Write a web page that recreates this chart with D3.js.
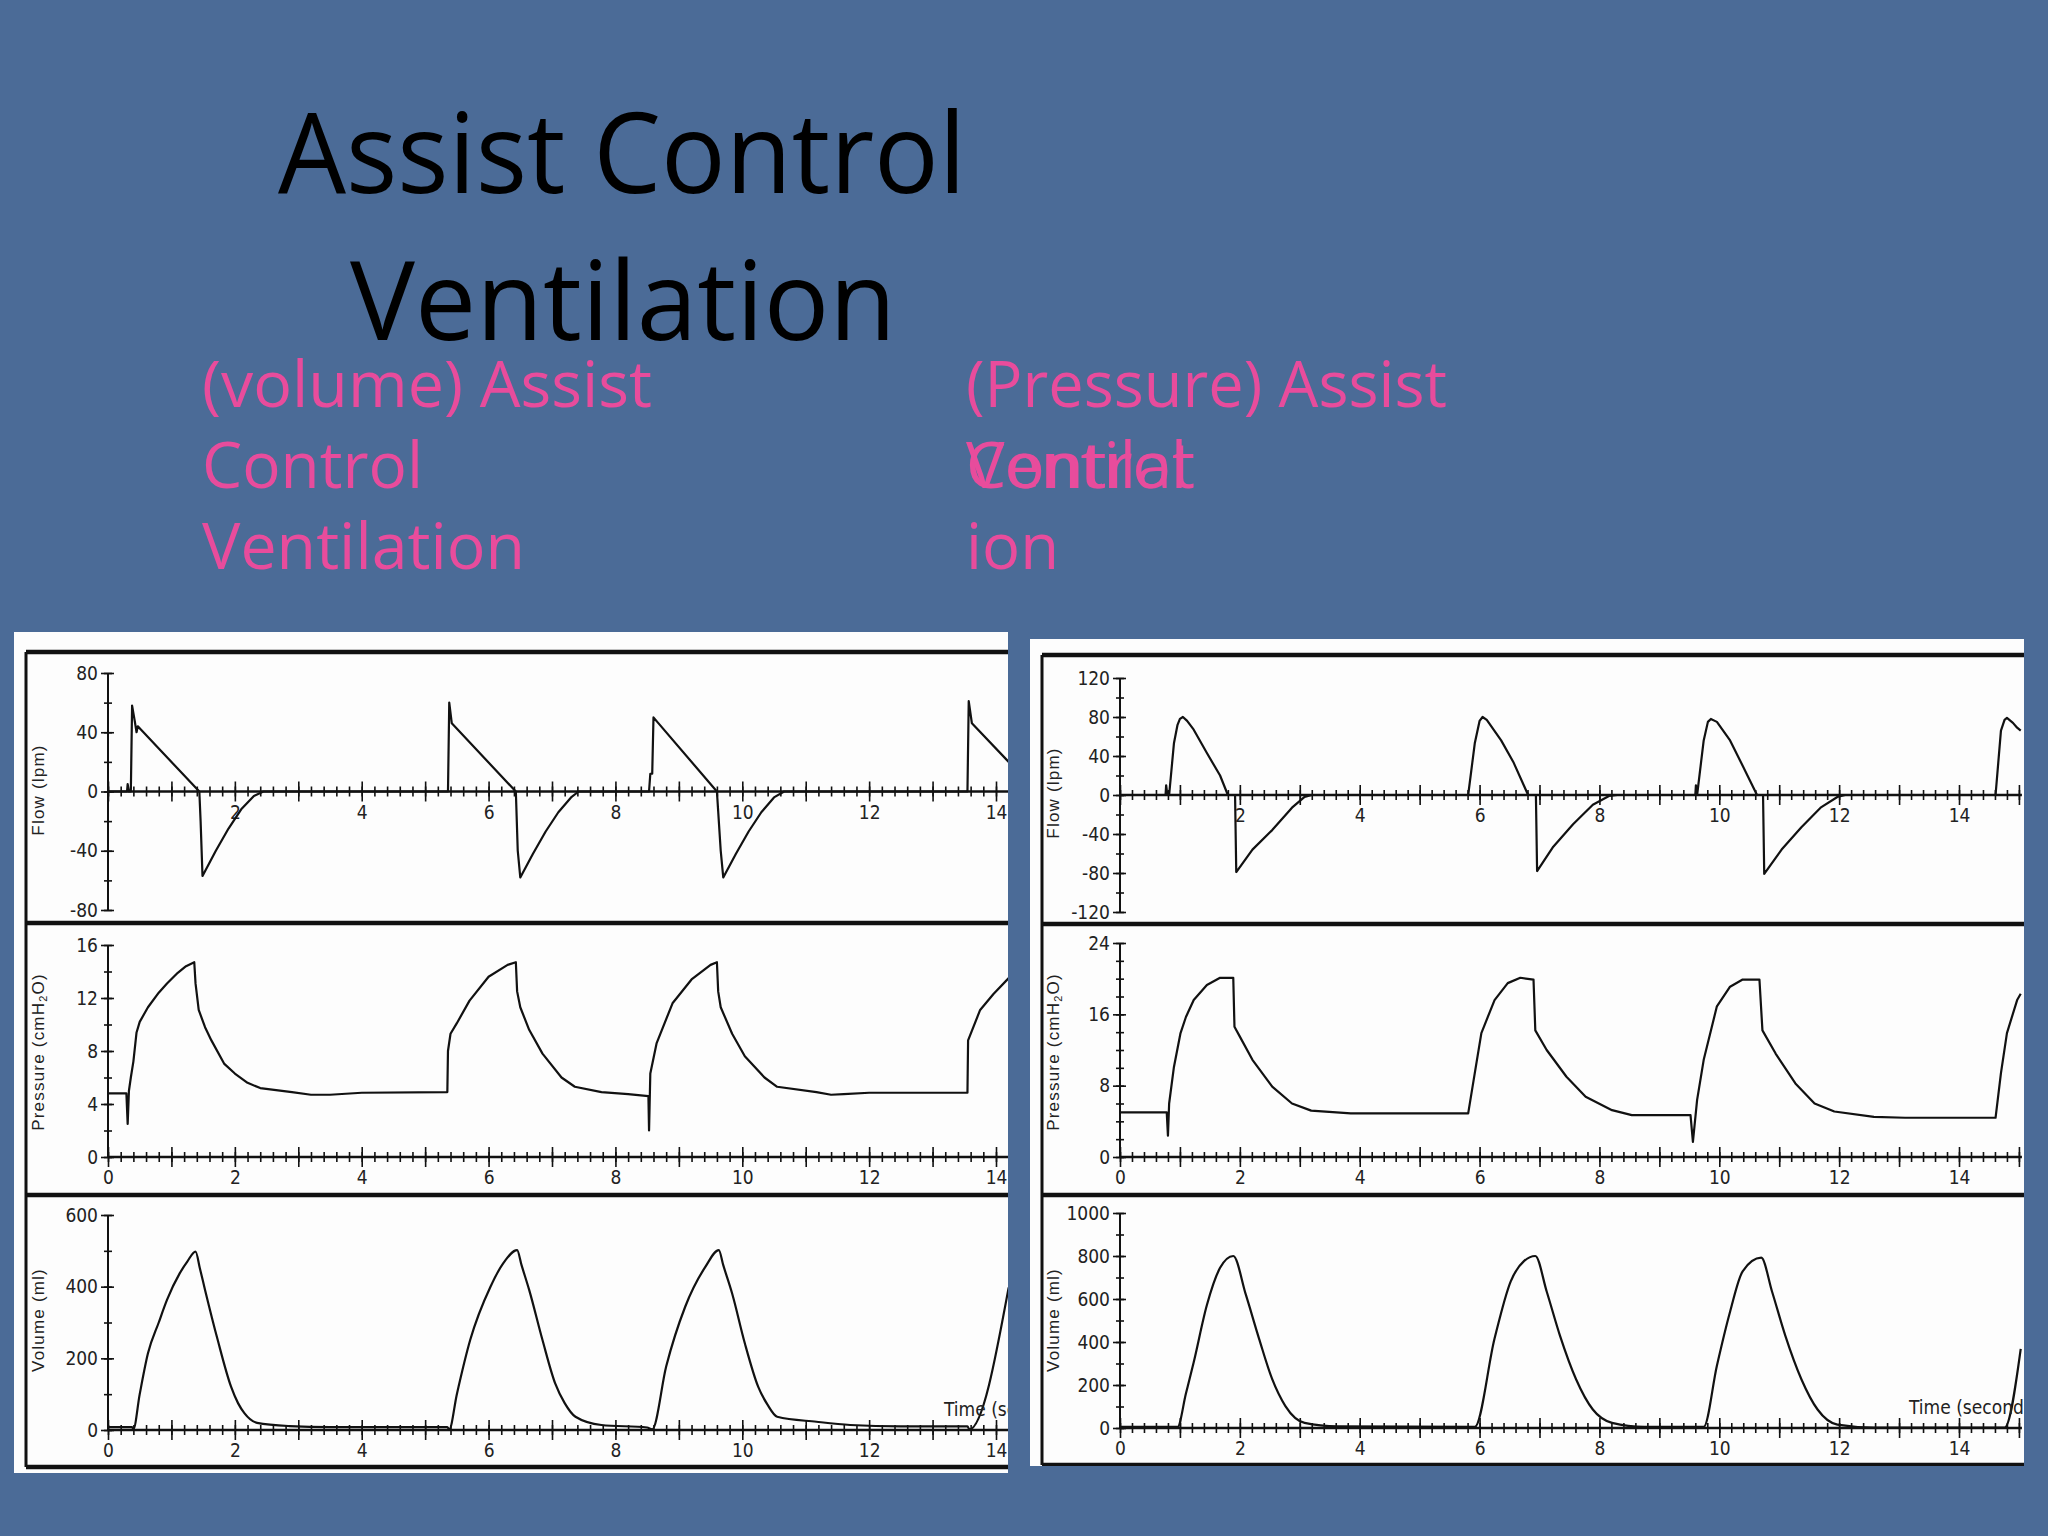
<!DOCTYPE html>
<html>
<head>
<meta charset="utf-8">
<script src="https://cdn.jsdelivr.net/npm/d3@7"></script>
<style>
  html, body { margin: 0; padding: 0; background: #4b6b97; }
  svg { display: block; }
</style>
</head>
<body>
<svg id="chart" width="2048" height="1536"></svg>
<script>
// ---------------- DATA ----------------
const titleLines = ["Assist Control", "Ventilation"];
const leftHeading = ["(volume) Assist", "Control", "Ventilation"];
const rightHeading = ["(Pressure) Assist", "Control", "Ventilat", "ion"];

const axisTitles = ["Flow (lpm)", "Pressure (cmH", "Volume (ml)"];
const timeLabel = "Time (seconds)";

// tick labels
const xTickLabels = [0, 2, 4, 6, 8, 10, 12, 14];
const leftFlowTicks = [80, 40, 0, -40, -80];
const leftPressureTicks = [16, 12, 8, 4, 0];
const leftVolumeTicks = [600, 400, 200, 0];
const rightFlowTicks = [120, 80, 40, 0, -40, -80, -120];
const rightPressureTicks = [24, 16, 8, 0];
const rightVolumeTicks = [1000, 800, 600, 400, 200, 0];

// series: [time (s), value]
const leftFlow = [[0,0],[0.3,0],[0.31,5],[0.33,0],[0.36,0],[0.38,58],[0.42,48],[0.45,40],[0.47,44],[1.44,0],[1.46,-20],[1.49,-57],[1.7,-40],[1.9,-25],[2.1,-12],[2.3,-3],[2.45,0],
  [5.36,0],[5.38,60],[5.42,46],[6.43,0],[6.46,-40],[6.5,-58],[6.7,-42],[6.9,-27],[7.1,-14],[7.3,-4],[7.42,0],
  [8.53,0],[8.55,12],[8.58,12],[8.6,50],[8.68,46],[9.6,0],[9.66,-40],[9.7,-58],[9.9,-42],[10.1,-27],[10.3,-14],[10.5,-4],[10.66,0],
  [13.55,0],[13.57,61],[13.62,46],[14.2,20]];
const leftPressure = [[0,4.8],[0.29,4.8],[0.31,2.5],[0.33,5.0],[0.36,6.0],[0.4,7.2],[0.45,9.4],[0.5,10.2],[0.63,11.3],[0.8,12.4],[0.93,13.1],[1.1,13.9],[1.23,14.4],[1.36,14.7],[1.38,13.1],[1.43,11.1],[1.53,9.8],[1.63,8.8],[1.83,7.05],[2.0,6.3],[2.2,5.6],[2.4,5.2],[2.9,4.9],[3.2,4.7],[3.5,4.7],[4.0,4.85],[5.35,4.9],
  [5.36,8.0],[5.4,9.3],[5.5,10.1],[5.7,11.8],[6.0,13.6],[6.3,14.5],[6.43,14.7],[6.45,12.5],[6.5,11.3],[6.64,9.6],[6.85,7.8],[7.15,6.0],[7.36,5.3],[7.78,4.9],[8.2,4.75],[8.52,4.6],
  [8.53,2.0],[8.55,6.3],[8.65,8.6],[8.9,11.6],[9.2,13.4],[9.5,14.5],[9.6,14.7],[9.62,12.5],[9.66,11.3],[9.84,9.3],[10.04,7.6],[10.35,6.0],[10.55,5.3],[11.17,4.9],[11.4,4.7],[11.6,4.75],[12.0,4.85],[13.55,4.85],
  [13.56,8.8],[13.75,11.1],[13.96,12.3],[14.2,13.5]];
const leftVolume = [[0,8],[0.38,8],[0.4,2],[0.5,100],[0.63,214],[0.8,300],[0.93,363],[1.13,437],[1.25,470],[1.38,498],[1.45,450],[1.53,391],[1.73,251],[1.94,121],[2.05,75],[2.15,47],[2.35,20],[2.86,11],[3.5,8],[5.35,8],
  [5.38,2],[5.5,100],[5.71,251],[6.03,400],[6.23,465],[6.45,502],[6.52,460],[6.64,391],[6.85,251],[7.05,130],[7.2,75],[7.37,37],[7.78,14],[8.5,7],
  [8.58,2],[8.8,177],[9.1,344],[9.42,456],[9.63,502],[9.7,460],[9.84,381],[10.04,242],[10.25,121],[10.4,70],[10.55,37],[11.17,23],[11.7,14],[12.5,10],[13.55,10],
  [13.58,2],[14.2,398]];

const rightFlow = [[0,0],[0.76,0],[0.77,10],[0.79,0],[0.82,0],[0.9,53],[0.96,72],[1.0,78],[1.05,80],[1.12,76],[1.23,67],[1.45,43],[1.67,20],[1.8,0],[1.92,0],[1.94,-79],[2.21,-56],[2.54,-36],[2.87,-13],[3.08,-2],[3.2,0],
  [5.81,0],[5.92,53],[6.0,76],[6.05,80],[6.12,77],[6.36,56],[6.57,33],[6.81,0],[6.94,0],[6.96,-78],[7.23,-53],[7.56,-30],[7.89,-10],[8.16,-1],[8.3,0],
  [9.6,0],[9.61,10],[9.63,0],[9.74,56],[9.81,75],[9.86,78],[9.96,75],[10.18,56],[10.39,30],[10.63,0],[10.73,0],[10.75,-81],[11.04,-56],[11.37,-33],[11.69,-13],[11.97,-2],[12.1,0],
  [14.61,0],[14.7,66],[14.76,77],[14.8,79],[14.9,74],[14.97,69],[15.03,66]];
const rightPressure = [[0,5.0],[0.78,5.0],[0.8,2.4],[0.82,6.0],[0.9,10.1],[1.01,13.9],[1.1,15.7],[1.23,17.6],[1.45,19.3],[1.67,20.1],[1.89,20.1],[1.91,14.6],[2.0,13.5],[2.21,10.9],[2.54,7.9],[2.87,6.0],[3.19,5.2],[3.85,4.9],[5.81,4.9],
  [5.92,9.4],[6.03,13.9],[6.25,17.6],[6.47,19.5],[6.68,20.1],[6.9,19.9],[6.93,14.2],[7.12,12.0],[7.45,9.0],[7.77,6.75],[8.21,5.25],[8.54,4.7],[9.52,4.7],
  [9.56,1.7],[9.63,6.4],[9.74,10.9],[9.96,16.9],[10.18,19.1],[10.39,19.9],[10.67,19.9],[10.72,14.2],[10.94,11.6],[11.27,8.25],[11.59,6.0],[11.92,5.1],[12.58,4.5],[13.1,4.4],[14.61,4.4],
  [14.7,9.4],[14.8,13.9],[14.97,17.6],[15.03,18.3]];
const rightVolume = [[0,5],[0.96,5],[1.1,160],[1.23,306],[1.45,572],[1.67,745],[1.89,800],[2.1,620],[2.32,416],[2.54,227],[2.76,102],[3.08,24],[3.63,8],[5.92,5],
  [6.25,416],[6.52,682],[6.74,776],[6.93,800],[7.12,635],[7.34,431],[7.61,227],[7.89,86],[8.21,24],[8.75,5],[9.74,5],
  [9.96,290],[10.18,541],[10.39,729],[10.7,792],[10.88,635],[11.1,431],[11.37,227],[11.64,86],[11.97,16],[12.58,2],[14.76,2],[15.03,368]];

// ---------------- DRAW ----------------
const svg = d3.select("#chart");
const PINK = "#e84c9c";
const INK = "#111";
const NARROW = '"Liberation Sans Narrow", "DejaVu Sans Condensed", "Liberation Sans", sans-serif';
const fmt = d => String(d);

// Title
const titleG = svg.append("g").attr("font-family", '"Open Sans", "Noto Sans", sans-serif').attr("fill", "#000");
titleG.append("text").attr("x", 278).attr("y", 193).attr("font-size", 112)
  .attr("textLength", 688).attr("lengthAdjust", "spacingAndGlyphs").text(titleLines[0]);
titleG.append("text").attr("x", 350).attr("y", 340).attr("font-size", 110)
  .attr("textLength", 546).attr("lengthAdjust", "spacingAndGlyphs").text(titleLines[1]);

// Pink headings
const headG = svg.append("g").attr("font-family", '"Open Sans", "Noto Sans", sans-serif').attr("fill", PINK).attr("font-size", 64);
const leftW = [450, 221, 323];
const leftY = [407, 488, 569];
leftHeading.forEach((s, i) => headG.append("text").attr("x", 202).attr("y", leftY[i])
  .attr("textLength", leftW[i]).attr("lengthAdjust", "spacingAndGlyphs").text(s));
const rightW = [481, 221, 229, 93];
const rightY = [407, 488, 488, 569];
rightHeading.forEach((s, i) => headG.append("text").attr("x", 966).attr("y", rightY[i])
  .attr("textLength", rightW[i]).attr("lengthAdjust", "spacingAndGlyphs").text(s));

// Panels
const panels = [
  {
    rect: [14, 632, 1008, 1473], frameX: 26, frameYs: [652, 923, 1195, 1467], frameX1: 1008,
    x: d3.scaleLinear().domain([0, 14]).range([108, 996]), tMax: 14.2, titleX: 40, timeX: 944,
    subs: [
      { y: d3.scaleLinear().domain([-80, 80]).range([910, 673]), ticks: leftFlowTicks, minorStep: 20, data: leftFlow, curve: d3.curveLinear, xLabels: "flow", titleY: 790, title: 0 },
      { y: d3.scaleLinear().domain([0, 16]).range([1157, 945]), ticks: leftPressureTicks, minorStep: 2, data: leftPressure, curve: d3.curveLinear, xLabels: "below", titleY: 1052, title: 1 },
      { y: d3.scaleLinear().domain([0, 600]).range([1430, 1215]), ticks: leftVolumeTicks, minorStep: 100, data: leftVolume, curve: d3.curveMonotoneX, xLabels: "below", titleY: 1320, title: 2, time: true }
    ]
  },
  {
    rect: [1030, 639, 2024, 1466], frameX: 1042, frameYs: [655, 924, 1195, 1465], frameX1: 2024,
    x: d3.scaleLinear().domain([0, 14]).range([1120, 1959]), tMax: 15.05, titleX: 1055, timeX: 1909,
    subs: [
      { y: d3.scaleLinear().domain([-120, 120]).range([912, 678]), ticks: rightFlowTicks, minorStep: 20, data: rightFlow, curve: d3.curveLinear, xLabels: "flow", titleY: 793, title: 0 },
      { y: d3.scaleLinear().domain([0, 24]).range([1157, 943]), ticks: rightPressureTicks, minorStep: 2, data: rightPressure, curve: d3.curveLinear, xLabels: "below", titleY: 1052, title: 1 },
      { y: d3.scaleLinear().domain([0, 1000]).range([1428, 1213]), ticks: rightVolumeTicks, minorStep: 100, data: rightVolume, curve: d3.curveMonotoneX, xLabels: "below", titleY: 1320, title: 2, time: true }
    ]
  }
];

panels.forEach((p, pi) => {
  const [rx0, ry0, rx1, ry1] = p.rect;
  const clipId = "clip" + pi;
  svg.append("clipPath").attr("id", clipId).append("rect")
    .attr("x", rx0).attr("y", ry0).attr("width", rx1 - rx0).attr("height", ry1 - ry0);
  const g = svg.append("g").attr("clip-path", `url(#${clipId})`);
  g.append("rect").attr("x", rx0).attr("y", ry0).attr("width", rx1 - rx0).attr("height", ry1 - ry0).attr("fill", "#fdfdfd");

  // frame
  g.append("line").attr("x1", p.frameX).attr("x2", p.frameX).attr("y1", p.frameYs[0]).attr("y2", p.frameYs[3])
    .attr("stroke", INK).attr("stroke-width", 3);
  p.frameYs.forEach(fy => g.append("line").attr("x1", p.frameX).attr("x2", p.frameX1 + 2).attr("y1", fy).attr("y2", fy)
    .attr("stroke", INK).attr("stroke-width", 4.5));

  const x = p.x;
  const minorT = d3.range(0, p.tMax + 0.001, 0.2).map(v => +v.toFixed(2));
  const majorT = d3.range(0, Math.floor(p.tMax) + 1, 1);

  p.subs.forEach(s => {
    const y = s.y;
    const x0 = y(0);
    const [yMin, yMax] = y.domain();
    const yAxisX = x(0);

    // x axis line
    g.append("line").attr("x1", yAxisX).attr("x2", x(p.tMax)).attr("y1", x0).attr("y2", x0)
      .attr("stroke", INK).attr("stroke-width", 2.4);
    const tickStyle = sel => { sel.select(".domain").remove(); sel.selectAll("line").attr("stroke", INK).attr("stroke-width", 1.6); };
    g.append("g").attr("transform", `translate(0,${x0})`)
      .call(d3.axisBottom(x).tickValues(minorT).tickSize(5).tickFormat("")).call(tickStyle);
    g.append("g").attr("transform", `translate(0,${x0})`)
      .call(d3.axisTop(x).tickValues(minorT).tickSize(5).tickFormat("")).call(tickStyle);
    g.append("g").attr("transform", `translate(0,${x0})`)
      .call(d3.axisBottom(x).tickValues(majorT).tickSize(10).tickFormat("")).call(tickStyle);
    g.append("g").attr("transform", `translate(0,${x0})`)
      .call(d3.axisTop(x).tickValues(majorT).tickSize(10).tickFormat("")).call(tickStyle);
    // x labels
    const xl = g.append("g").attr("transform", `translate(0,${x0})`)
      .call(d3.axisBottom(x).tickValues(xTickLabels.filter(v => s.xLabels === "below" || v > 0)).tickSize(0).tickPadding(14).tickFormat(fmt));
    xl.select(".domain").remove();
    xl.selectAll("text").attr("font-size", 19).attr("fill", "#222").attr("font-family", NARROW);

    // y axis line
    g.append("line").attr("x1", yAxisX).attr("x2", yAxisX).attr("y1", y(yMax)).attr("y2", y(yMin))
      .attr("stroke", INK).attr("stroke-width", 2);
    const minorY = d3.range(yMin, yMax + 0.001, s.minorStep);
    g.append("g").attr("transform", `translate(${yAxisX},0)`)
      .call(d3.axisLeft(y).tickValues(minorY).tickSize(4).tickFormat("")).call(tickStyle);
    g.append("g").attr("transform", `translate(${yAxisX},0)`)
      .call(d3.axisRight(y).tickValues(minorY).tickSize(4).tickFormat("")).call(tickStyle);
    g.append("g").attr("transform", `translate(${yAxisX},0)`)
      .call(d3.axisRight(y).tickValues(s.ticks).tickSize(6).tickFormat("")).call(tickStyle);
    const yl = g.append("g").attr("transform", `translate(${yAxisX},0)`)
      .call(d3.axisLeft(y).tickValues(s.ticks).tickSize(7).tickPadding(3).tickFormat(fmt));
    tickStyle(yl);
    yl.selectAll("text").attr("font-size", 19).attr("fill", "#222").attr("font-family", NARROW);

    // axis title
    const t = g.append("text").attr("transform", `translate(${p.titleX},${s.titleY}) rotate(-90)`)
      .attr("text-anchor", "middle").attr("dominant-baseline", "middle")
      .attr("font-family", '"Liberation Sans", Arial, sans-serif').attr("font-size", 17)
      .attr("letter-spacing", 1.2).attr("fill", "#222");
    if (s.title === 1) {
      t.append("tspan").text(axisTitles[1]);
      t.append("tspan").attr("font-size", 11).attr("dy", 4).text("2");
      t.append("tspan").attr("dy", -4).text("O)");
    } else {
      t.text(axisTitles[s.title]);
    }

    // data line
    const line = d3.line().x(d => x(d[0])).y(d => y(d[1])).curve(s.curve);
    g.append("path").datum(s.data).attr("d", line).attr("fill", "none")
      .attr("stroke", INK).attr("stroke-width", 2.2).attr("stroke-linejoin", "round");

    if (s.time) {
      g.append("text").attr("x", p.timeX).attr("y", x0 - 14)
        .attr("font-family", NARROW).attr("font-size", 19).attr("fill", "#222").text(timeLabel);
    }
  });
});
</script>
</body>
</html>
